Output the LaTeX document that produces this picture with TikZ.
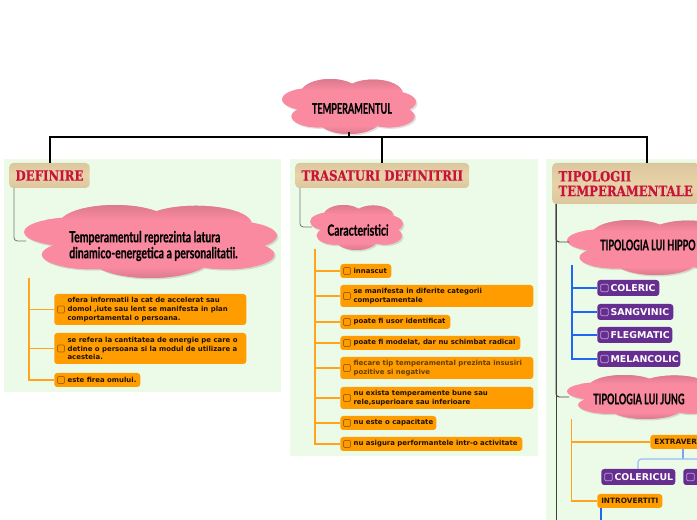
\documentclass[tikz,border=0pt]{standalone}
\usepackage{fontspec}
\usetikzlibrary{calc}
\setmainfont{DejaVu Sans}
\newfontfamily\cloudfont[FakeStretch=0.68,FakeBold=0.35]{Lato Bold}
\newfontfamily\capsfont[FakeStretch=0.62,FakeBold=0.35]{Lato Bold}
\newfontfamily\titlefont[FakeStretch=0.83,FakeBold=0.4]{DejaVu Serif Bold}
\newfontfamily\itemfont{DejaVu Sans Bold}
\definecolor{panelc}{HTML}{ECFBE8}
\definecolor{orangec}{HTML}{FF9C00}
\definecolor{trunkc}{HTML}{FFA41C}
\definecolor{purplec}{HTML}{662E91}
\definecolor{bluec}{HTML}{1F66F0}
\definecolor{pinkc}{HTML}{F98AA0}
\definecolor{pinkd}{HTML}{DC7A8E}
\definecolor{titlered}{HTML}{C8143C}
\definecolor{tanc}{HTML}{E8D3A8}
\definecolor{tand}{HTML}{DCC69E}
\newcommand{\puffs}{
  (.20,.37) ellipse [x radius=.20,y radius=.20]
  (.36,.26) ellipse [x radius=.22,y radius=.26]
  (.68,.26) ellipse [x radius=.22,y radius=.25]
  (.82,.42) ellipse [x radius=.18,y radius=.20]
  (.27,.68) ellipse [x radius=.20,y radius=.20]
  (.50,.72) ellipse [x radius=.24,y radius=.28]
  (.80,.68) ellipse [x radius=.19,y radius=.20]
  (.50,.50) ellipse [x radius=.35,y radius=.30]}
% name, x1, y1, x2, y2
\newcommand{\cloudat}[5]{
  \begin{scope}[shift={(#2+1.5,#3+1.5)},xscale={#4-#2},yscale={#5-#3}]
    \fill[black,opacity=.12] \puffs;
  \end{scope}
  \begin{scope}[shift={(#2,#3)},xscale={#4-#2},yscale={#5-#3}]
    \begin{scope}
      \clip \puffs;
      \fill[pinkc] (-.1,-.1) rectangle (1.1,1.1);
      \shade[top color=pinkd,bottom color=pinkc] (-.1,0) rectangle (1.1,.2);
      \shade[top color=pinkc,bottom color=pinkd] (-.1,.85) rectangle (1.1,1);
    \end{scope}
  \end{scope}
  \coordinate (#1) at ($(#2,#3)!.5!(#4,#5)$);
}
\tikzset{
  x=.75pt,y=-.75pt,
  panel/.style={fill=panelc,draw=none},
  titlebox/.style={rounded corners=3pt,draw=none,top color=tand,bottom color=tand,middle color=tanc,anchor=west,inner xsep=4.7pt,inner ysep=0pt,minimum height=18.75pt,font=\titlefont\fontsize{10.6}{11}\selectfont,text=titlered,align=left},
  cloudtext/.style={font=\cloudfont\fontsize{11.5}{12}\selectfont,text=black,align=left,inner sep=0pt},
  capstext/.style={font=\capsfont\fontsize{11}{12}\selectfont,text=black,align=left,inner sep=0pt},
  itembox/.style={fill=orangec,draw=none,rounded corners=2.2pt,anchor=west,inner sep=0pt,align=left,text=black!85!orangec},
  jungbox/.style={itembox,minimum height=10.5pt,inner xsep=3pt,font=\itemfont\fontsize{5.5}{7}\selectfont},
  purplebox/.style={fill=purplec,draw=none,rounded corners=2.2pt,anchor=west,inner sep=0pt,minimum height=12pt},
  tick/.style={draw=#1,line width=.6pt,rounded corners=.8pt,minimum size=5.2pt,inner sep=0pt},
  tick/.default={black!35!orangec},
  trunkline/.style={draw=trunkc,line width=1.4pt},
  blueline/.style={draw=bluec,line width=1.4pt},
  lightblue/.style={draw=bluec!45!white,line width=.9pt,rounded corners=2.5pt},
  mainline/.style={draw=black,line width=.85pt},
  greyline/.style={draw=black!55,line width=.6pt,rounded corners=2.5pt},
  darkline/.style={draw=black!75,line width=.7pt,rounded corners=2.5pt},
}
% name, x1, x2, yc, h(px), unused, text
\newcommand{\orangeitem}[7]{
  \node[itembox,minimum height=#5*.75pt,minimum width={(#3-#2)*.75pt}] (#1) at (#2,#4) {};
  \node[tick,anchor=center] (#1c) at ($(#1.west)+(7,0)$) {};
  \node[anchor=west,inner sep=0pt,align=left,font=\itemfont\fontsize{5.2}{6.6}\selectfont,text=black!88!orangec] (#1t) at ($(#1.west)+(13.3,0)$) {#7};
}
\newcommand{\purpleitem}[5]{
  \node[purplebox,minimum width={(#3-#2)*.75pt}] (#1) at (#2,#4) {};
  \node[tick=white!55!purplec,anchor=center,minimum size=5.6pt] (#1c) at ($(#1.west)+(7.5,0)$) {};
  \node[anchor=west,inner sep=0pt,font=\itemfont\fontsize{7.05}{8}\selectfont,text=white] (#1t) at ($(#1.west)+(13.3,0)$) {#5};
}
\begin{document}
\begin{tikzpicture}
\useasboundingbox (0,0) rectangle (697,520);
\clip (0,0) rectangle (697,520);
\fill[white] (0,0) rectangle (697,520);
% panels
\fill[panel] (4,159) rectangle (281,392);
\fill[panel] (290,159) rectangle (538,456);
\fill[panel] (546,159) rectangle (697,520);

% clouds
\cloudat{cmainc}{282}{79}{416}{134}
\cloudat{cdefc}{24}{205}{277}{278}
\cloudat{ccarc}{310}{205}{403}{250}
\cloudat{chipc}{567}{220}{745}{275}
\cloudat{cjunc}{567}{375}{725}{419}

\node[capstext,anchor=center] (cmain) at (352,108.5) {TEMPERAMENTUL};
\node[cloudtext,anchor=west] (cdef) at (69,246) {Temperamentul reprezinta latura\\dinamico-energetica a personalitatii.};
\node[cloudtext,anchor=center] (ccar) at (358,230) {Caracteristici};
\node[capstext,anchor=west] (chip) at (600,245) {TIPOLOGIA LUI HIPPO};
\node[capstext,anchor=west] (cjun) at (593,399) {TIPOLOGIA LUI JUNG};

% titles
\node[titlebox] (tdef) at (9,175.5) {DEFINIRE};
\node[titlebox] (ttra) at (295,175.5) {TRASATURI DEFINITRII};
\node[titlebox,minimum height=30.75pt] (ttip) at (552,183.5) {TIPOLOGII\\TEMPERAMENTALE};

% main connectors
\coordinate (jmain) at (349,137);
\coordinate (cmainb) at (349,132);
\coordinate (tdeft) at (50,163);
\coordinate (ttrat) at (382,163);
\coordinate (ttipt) at (647,163);
\draw[mainline] (cmainb) -- (jmain);
\draw[mainline] (tdeft) |- (jmain);
\draw[mainline] (ttipt) |- (jmain);
\draw[mainline] (ttrat) |- (jmain);

% title to cloud connectors
\coordinate (cdefl) at (26,241);
\coordinate (ccarl) at (312,227);
\coordinate (chipl) at (569,242);
\coordinate (cjunl) at (569,397);
\coordinate (tdefb) at (14,188);
\coordinate (ttrab) at (300,188);
\coordinate (ttipb) at (556,204);
\coordinate (ttipe) at (556,520);
\draw[greyline] (tdefb) |- (cdefl);
\draw[greyline] (ttrab) |- (ccarl);
\draw[darkline] (ttipb) -- (ttipe);
\draw[darkline] (ttipb) |- (chipl);
\draw[darkline] (ttipb) |- (cjunl);

% Definire items
\orangeitem{d1}{54}{246}{309.5}{31}{}{ofera informatii la cat de accelerat sau\\domol ,iute sau lent se manifesta in plan\\comportamental o persoana.}
\orangeitem{d2}{54}{246}{348.5}{31}{}{se refera la cantitatea de energie pe care o\\detine o persoana si la modul de utilizare a\\acesteia.}
\orangeitem{d3}{54}{140}{380}{14}{}{este firea omului.}
\coordinate (dt) at (29,278);
\draw[trunkline] (dt) |- (d3.west);
\draw[trunkline] (dt) |- (d1.west);
\draw[trunkline] (dt) |- (d2.west);

% Trasaturi items
\orangeitem{t1}{340}{391}{271}{14}{}{innascut}
\orangeitem{t2}{340}{533}{296}{22}{}{se manifesta in diferite categorii\\comportamentale}
\orangeitem{t3}{340}{450}{322}{14}{}{poate fi usor identificat}
\orangeitem{t4}{340}{520}{343}{14}{}{poate fi modelat, dar nu schimbat radical}
\orangeitem{t5}{340}{533}{368}{22}{}{\textcolor{black!60!orangec}{fiecare tip temperamental prezinta insusiri}\\\textcolor{black!60!orangec}{pozitive si negative}}
\orangeitem{t6}{340}{533}{398}{22}{}{nu exista temperamente bune sau\\rele,superioare sau inferioare}
\orangeitem{t7}{340}{436}{423}{14}{}{nu este o capacitate}
\orangeitem{t8}{340}{522}{444}{14}{}{nu asigura performantele intr-o activitate}
\coordinate (tt) at (315,249);
\foreach \n in {t1,t2,t3,t4,t5,t6,t7,t8}{\draw[trunkline] (tt) |- (\n.west);}

% Hippocrate
\purpleitem{p1}{597}{659}{288}{COLERIC}
\purpleitem{p2}{597}{673}{312}{SANGVINIC}
\purpleitem{p3}{597}{672}{335}{FLEGMATIC}
\purpleitem{p4}{597}{680}{359}{MELANCOLIC}
\coordinate (pt) at (572,265);
\foreach \n in {p1,p2,p3,p4}{\draw[blueline] (pt) |- (\n.west);}

% Jung
\node[jungbox] (ex) at (650,442) {EXTRAVERTITI};
\node[jungbox] (in) at (597,501) {INTROVERTITI};
\coordinate (jt) at (571.5,419);
\draw[trunkline] (jt) |- (ex.west);
\draw[trunkline] (jt) |- (in.west);
\purpleitem{q1}{601}{675}{477}{COLERICUL}
\purpleitem{q2}{683}{760}{477}{}
\coordinate (exb) at (683,449);
\coordinate (exj) at (683,459);
\coordinate (q1n) at (638,469);
\coordinate (q2e) at (720,459);
\draw[bluec!60!white,line width=.9pt] (exb) -- (exj);
\draw[lightblue] (q1n) |- (q2e);
\coordinate (inb) at (601,508);
\coordinate (ine) at (601,520);
\draw[blueline] (inb) -- (ine);
\end{tikzpicture}
\end{document}
